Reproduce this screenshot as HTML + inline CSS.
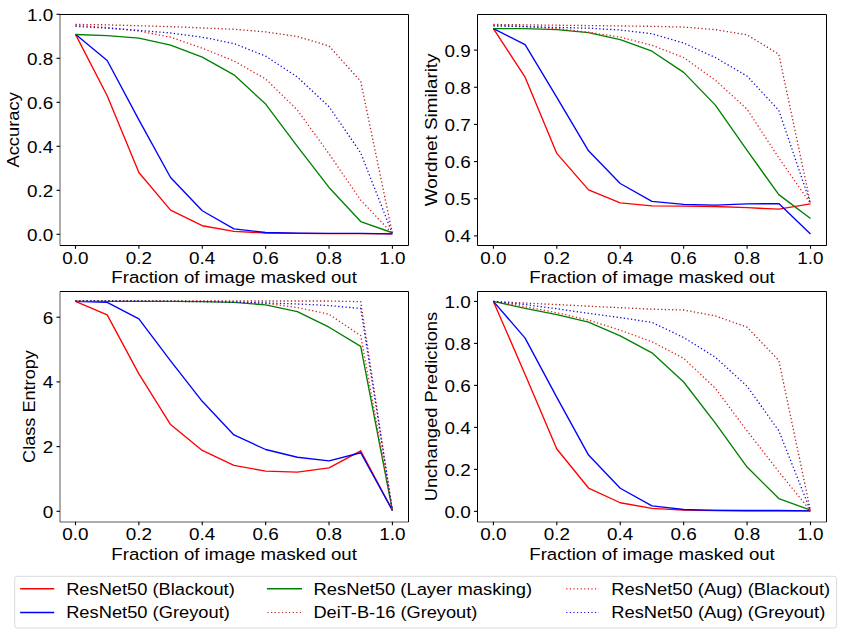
<!DOCTYPE html>
<html><head><meta charset="utf-8"><style>
html,body{margin:0;padding:0;background:#fff;}
svg{display:block;}
.t{font-family:"Liberation Sans",sans-serif;font-size:17.4px;fill:#000;}
</style></head><body>
<svg width="846" height="637" viewBox="0 0 846 637">
<rect width="846" height="637" fill="#fff"/>
<polyline points="75.50,34.32 107.19,95.70 138.88,172.48 170.57,210.10 202.26,225.72 233.95,231.44 265.64,232.98 297.33,233.42 329.02,233.64 360.71,233.64 392.40,233.86" fill="none" stroke="#ff0000" stroke-width="1.35" stroke-linejoin="round"/>
<polyline points="75.50,34.32 107.19,60.50 138.88,119.90 170.57,177.54 202.26,210.76 233.95,228.80 265.64,232.54 297.33,233.20 329.02,233.42 360.71,233.42 392.40,233.86" fill="none" stroke="#0000ff" stroke-width="1.35" stroke-linejoin="round"/>
<polyline points="75.50,34.54 107.19,35.64 138.88,38.06 170.57,45.10 202.26,57.20 233.95,74.80 265.64,104.06 297.33,146.30 329.02,187.44 360.71,221.54 392.40,232.76" fill="none" stroke="#008000" stroke-width="1.35" stroke-linejoin="round"/>
<polyline points="75.50,24.42 107.19,24.86 138.88,25.74 170.57,26.62 202.26,27.94 233.95,29.26 265.64,31.90 297.33,36.52 329.02,45.98 360.71,81.40 392.40,233.64" fill="none" stroke="#b02020" stroke-width="1.3" stroke-linejoin="round" stroke-dasharray="1.3 2.35"/>
<polyline points="75.50,25.30 107.19,27.50 138.88,31.02 170.57,37.18 202.26,48.18 233.95,60.94 265.64,78.98 297.33,110.00 329.02,153.78 360.71,200.20 392.40,233.64" fill="none" stroke="#e02020" stroke-width="1.3" stroke-linejoin="round" stroke-dasharray="1.3 2.35"/>
<polyline points="75.50,26.40 107.19,28.16 138.88,30.36 170.57,33.00 202.26,37.18 233.95,43.56 265.64,56.10 297.33,77.00 329.02,106.70 360.71,152.90 392.40,233.64" fill="none" stroke="#1010d0" stroke-width="1.3" stroke-linejoin="round" stroke-dasharray="1.3 2.35"/>
<line x1="60.00" y1="14.50" x2="60.00" y2="245.50" stroke="#000" stroke-width="0.65"/>
<line x1="408.50" y1="14.50" x2="408.50" y2="245.50" stroke="#000" stroke-width="1.0"/>
<line x1="60.00" y1="14.50" x2="408.50" y2="14.50" stroke="#000" stroke-width="1.0"/>
<line x1="60.00" y1="245.50" x2="408.50" y2="245.50" stroke="#000" stroke-width="1.0"/>
<line x1="75.50" y1="245.30" x2="75.50" y2="248.80" stroke="#000" stroke-width="1.1"/>
<text class="t" x="62.38" y="263.60" textLength="26.24" lengthAdjust="spacingAndGlyphs">0.0</text>
<line x1="138.88" y1="245.30" x2="138.88" y2="248.80" stroke="#000" stroke-width="1.1"/>
<text class="t" x="125.76" y="263.60" textLength="26.24" lengthAdjust="spacingAndGlyphs">0.2</text>
<line x1="202.26" y1="245.30" x2="202.26" y2="248.80" stroke="#000" stroke-width="1.1"/>
<text class="t" x="189.14" y="263.60" textLength="26.24" lengthAdjust="spacingAndGlyphs">0.4</text>
<line x1="265.64" y1="245.30" x2="265.64" y2="248.80" stroke="#000" stroke-width="1.1"/>
<text class="t" x="252.52" y="263.60" textLength="26.24" lengthAdjust="spacingAndGlyphs">0.6</text>
<line x1="329.02" y1="245.30" x2="329.02" y2="248.80" stroke="#000" stroke-width="1.1"/>
<text class="t" x="315.90" y="263.60" textLength="26.24" lengthAdjust="spacingAndGlyphs">0.8</text>
<line x1="392.40" y1="245.30" x2="392.40" y2="248.80" stroke="#000" stroke-width="1.1"/>
<text class="t" x="379.28" y="263.60" textLength="26.24" lengthAdjust="spacingAndGlyphs">1.0</text>
<line x1="56.50" y1="234.30" x2="60.00" y2="234.30" stroke="#000" stroke-width="1.1"/>
<text class="t" x="27.06" y="240.80" textLength="26.24" lengthAdjust="spacingAndGlyphs">0.0</text>
<line x1="56.50" y1="190.30" x2="60.00" y2="190.30" stroke="#000" stroke-width="1.1"/>
<text class="t" x="27.06" y="196.80" textLength="26.24" lengthAdjust="spacingAndGlyphs">0.2</text>
<line x1="56.50" y1="146.30" x2="60.00" y2="146.30" stroke="#000" stroke-width="1.1"/>
<text class="t" x="27.06" y="152.80" textLength="26.24" lengthAdjust="spacingAndGlyphs">0.4</text>
<line x1="56.50" y1="102.30" x2="60.00" y2="102.30" stroke="#000" stroke-width="1.1"/>
<text class="t" x="27.06" y="108.80" textLength="26.24" lengthAdjust="spacingAndGlyphs">0.6</text>
<line x1="56.50" y1="58.30" x2="60.00" y2="58.30" stroke="#000" stroke-width="1.1"/>
<text class="t" x="27.06" y="64.80" textLength="26.24" lengthAdjust="spacingAndGlyphs">0.8</text>
<line x1="56.50" y1="14.30" x2="60.00" y2="14.30" stroke="#000" stroke-width="1.1"/>
<text class="t" x="27.06" y="20.80" textLength="26.24" lengthAdjust="spacingAndGlyphs">1.0</text>
<text class="t" x="111.38" y="282.80" textLength="245.54" lengthAdjust="spacingAndGlyphs">Fraction of image masked out</text>
<text class="t" transform="translate(19.40,129.85) rotate(-90)" x="-37.67" y="0" textLength="75.33" lengthAdjust="spacingAndGlyphs">Accuracy</text>
<polyline points="493.40,28.55 525.11,77.23 556.82,153.40 588.53,189.82 620.24,202.83 651.95,205.80 683.66,206.17 715.37,206.54 747.08,207.66 778.79,209.14 810.50,203.94" fill="none" stroke="#ff0000" stroke-width="1.35" stroke-linejoin="round"/>
<polyline points="493.40,28.55 525.11,44.53 556.82,97.29 588.53,150.80 620.24,183.50 651.95,201.34 683.66,204.31 715.37,205.06 747.08,203.94 778.79,203.57 810.50,234.04" fill="none" stroke="#0000ff" stroke-width="1.35" stroke-linejoin="round"/>
<polyline points="493.40,28.55 525.11,28.55 556.82,29.66 588.53,32.63 620.24,39.70 651.95,51.21 683.66,72.40 715.37,105.10 747.08,150.43 778.79,194.65 810.50,218.43" fill="none" stroke="#008000" stroke-width="1.35" stroke-linejoin="round"/>
<polyline points="493.40,24.46 525.11,24.83 556.82,25.20 588.53,25.57 620.24,25.95 651.95,26.32 683.66,27.06 715.37,29.66 747.08,34.86 778.79,54.19 810.50,203.57" fill="none" stroke="#b02020" stroke-width="1.3" stroke-linejoin="round" stroke-dasharray="1.3 2.35"/>
<polyline points="493.40,25.20 525.11,26.32 556.82,28.55 588.53,32.26 620.24,37.09 651.95,45.27 683.66,57.53 715.37,80.20 747.08,109.18 778.79,157.86 810.50,203.57" fill="none" stroke="#e02020" stroke-width="1.3" stroke-linejoin="round" stroke-dasharray="1.3 2.35"/>
<polyline points="493.40,25.95 525.11,26.69 556.82,27.43 588.53,28.18 620.24,30.03 651.95,33.75 683.66,43.04 715.37,57.53 747.08,76.11 778.79,110.30 810.50,203.57" fill="none" stroke="#1010d0" stroke-width="1.3" stroke-linejoin="round" stroke-dasharray="1.3 2.35"/>
<line x1="477.50" y1="14.50" x2="477.50" y2="245.50" stroke="#000" stroke-width="1.0"/>
<line x1="826.50" y1="14.50" x2="826.50" y2="245.50" stroke="#000" stroke-width="1.0"/>
<line x1="477.50" y1="14.50" x2="826.50" y2="14.50" stroke="#000" stroke-width="1.0"/>
<line x1="477.50" y1="245.50" x2="826.50" y2="245.50" stroke="#000" stroke-width="1.0"/>
<line x1="493.40" y1="245.30" x2="493.40" y2="248.80" stroke="#000" stroke-width="1.1"/>
<text class="t" x="480.28" y="263.60" textLength="26.24" lengthAdjust="spacingAndGlyphs">0.0</text>
<line x1="556.82" y1="245.30" x2="556.82" y2="248.80" stroke="#000" stroke-width="1.1"/>
<text class="t" x="543.70" y="263.60" textLength="26.24" lengthAdjust="spacingAndGlyphs">0.2</text>
<line x1="620.24" y1="245.30" x2="620.24" y2="248.80" stroke="#000" stroke-width="1.1"/>
<text class="t" x="607.12" y="263.60" textLength="26.24" lengthAdjust="spacingAndGlyphs">0.4</text>
<line x1="683.66" y1="245.30" x2="683.66" y2="248.80" stroke="#000" stroke-width="1.1"/>
<text class="t" x="670.54" y="263.60" textLength="26.24" lengthAdjust="spacingAndGlyphs">0.6</text>
<line x1="747.08" y1="245.30" x2="747.08" y2="248.80" stroke="#000" stroke-width="1.1"/>
<text class="t" x="733.96" y="263.60" textLength="26.24" lengthAdjust="spacingAndGlyphs">0.8</text>
<line x1="810.50" y1="245.30" x2="810.50" y2="248.80" stroke="#000" stroke-width="1.1"/>
<text class="t" x="797.38" y="263.60" textLength="26.24" lengthAdjust="spacingAndGlyphs">1.0</text>
<line x1="474.00" y1="235.90" x2="477.50" y2="235.90" stroke="#000" stroke-width="1.1"/>
<text class="t" x="444.56" y="242.40" textLength="26.24" lengthAdjust="spacingAndGlyphs">0.4</text>
<line x1="474.00" y1="198.74" x2="477.50" y2="198.74" stroke="#000" stroke-width="1.1"/>
<text class="t" x="444.56" y="205.24" textLength="26.24" lengthAdjust="spacingAndGlyphs">0.5</text>
<line x1="474.00" y1="161.58" x2="477.50" y2="161.58" stroke="#000" stroke-width="1.1"/>
<text class="t" x="444.56" y="168.08" textLength="26.24" lengthAdjust="spacingAndGlyphs">0.6</text>
<line x1="474.00" y1="124.42" x2="477.50" y2="124.42" stroke="#000" stroke-width="1.1"/>
<text class="t" x="444.56" y="130.92" textLength="26.24" lengthAdjust="spacingAndGlyphs">0.7</text>
<line x1="474.00" y1="87.26" x2="477.50" y2="87.26" stroke="#000" stroke-width="1.1"/>
<text class="t" x="444.56" y="93.76" textLength="26.24" lengthAdjust="spacingAndGlyphs">0.8</text>
<line x1="474.00" y1="50.10" x2="477.50" y2="50.10" stroke="#000" stroke-width="1.1"/>
<text class="t" x="444.56" y="56.60" textLength="26.24" lengthAdjust="spacingAndGlyphs">0.9</text>
<text class="t" x="529.28" y="282.80" textLength="245.54" lengthAdjust="spacingAndGlyphs">Fraction of image masked out</text>
<text class="t" transform="translate(436.90,129.85) rotate(-90)" x="-76.37" y="0" textLength="152.75" lengthAdjust="spacingAndGlyphs">Wordnet Similarity</text>
<polyline points="75.50,301.35 107.19,314.94 138.88,373.81 170.57,424.60 202.26,450.48 233.95,465.36 265.64,471.19 297.33,472.16 329.02,467.95 360.71,450.81 392.40,510.33" fill="none" stroke="#ff0000" stroke-width="1.35" stroke-linejoin="round"/>
<polyline points="75.50,301.35 107.19,302.32 138.88,318.82 170.57,360.87 202.26,401.31 233.95,434.95 265.64,449.51 297.33,457.28 329.02,460.83 360.71,452.75 392.40,510.33" fill="none" stroke="#0000ff" stroke-width="1.35" stroke-linejoin="round"/>
<polyline points="75.50,301.35 107.19,301.35 138.88,301.35 170.57,301.35 202.26,301.67 233.95,302.32 265.64,304.91 297.33,311.70 329.02,327.23 360.71,346.32 392.40,510.33" fill="none" stroke="#008000" stroke-width="1.35" stroke-linejoin="round"/>
<polyline points="75.50,301.02 107.19,301.02 138.88,301.02 170.57,301.02 202.26,301.02 233.95,301.02 265.64,301.02 297.33,301.02 329.02,301.02 360.71,301.67 392.40,510.33" fill="none" stroke="#b02020" stroke-width="1.3" stroke-linejoin="round" stroke-dasharray="1.3 2.35"/>
<polyline points="75.50,301.02 107.19,301.02 138.88,301.02 170.57,301.35 202.26,301.35 233.95,301.67 265.64,303.29 297.33,307.50 329.02,314.29 360.71,335.64 392.40,510.33" fill="none" stroke="#e02020" stroke-width="1.3" stroke-linejoin="round" stroke-dasharray="1.3 2.35"/>
<polyline points="75.50,301.02 107.19,301.02 138.88,301.02 170.57,301.35 202.26,301.67 233.95,302.32 265.64,302.97 297.33,303.94 329.02,305.55 360.71,308.47 392.40,510.33" fill="none" stroke="#1010d0" stroke-width="1.3" stroke-linejoin="round" stroke-dasharray="1.3 2.35"/>
<line x1="60.00" y1="291.50" x2="60.00" y2="522.00" stroke="#000" stroke-width="0.65"/>
<line x1="408.50" y1="291.50" x2="408.50" y2="522.00" stroke="#000" stroke-width="1.0"/>
<line x1="60.00" y1="291.50" x2="408.50" y2="291.50" stroke="#000" stroke-width="1.0"/>
<line x1="60.00" y1="522.00" x2="408.50" y2="522.00" stroke="#000" stroke-width="0.65"/>
<line x1="75.50" y1="521.70" x2="75.50" y2="525.20" stroke="#000" stroke-width="1.1"/>
<text class="t" x="62.38" y="540.20" textLength="26.24" lengthAdjust="spacingAndGlyphs">0.0</text>
<line x1="138.88" y1="521.70" x2="138.88" y2="525.20" stroke="#000" stroke-width="1.1"/>
<text class="t" x="125.76" y="540.20" textLength="26.24" lengthAdjust="spacingAndGlyphs">0.2</text>
<line x1="202.26" y1="521.70" x2="202.26" y2="525.20" stroke="#000" stroke-width="1.1"/>
<text class="t" x="189.14" y="540.20" textLength="26.24" lengthAdjust="spacingAndGlyphs">0.4</text>
<line x1="265.64" y1="521.70" x2="265.64" y2="525.20" stroke="#000" stroke-width="1.1"/>
<text class="t" x="252.52" y="540.20" textLength="26.24" lengthAdjust="spacingAndGlyphs">0.6</text>
<line x1="329.02" y1="521.70" x2="329.02" y2="525.20" stroke="#000" stroke-width="1.1"/>
<text class="t" x="315.90" y="540.20" textLength="26.24" lengthAdjust="spacingAndGlyphs">0.8</text>
<line x1="392.40" y1="521.70" x2="392.40" y2="525.20" stroke="#000" stroke-width="1.1"/>
<text class="t" x="379.28" y="540.20" textLength="26.24" lengthAdjust="spacingAndGlyphs">1.0</text>
<line x1="56.50" y1="511.30" x2="60.00" y2="511.30" stroke="#000" stroke-width="1.1"/>
<text class="t" x="42.80" y="517.80" textLength="10.50" lengthAdjust="spacingAndGlyphs">0</text>
<line x1="56.50" y1="446.60" x2="60.00" y2="446.60" stroke="#000" stroke-width="1.1"/>
<text class="t" x="42.80" y="453.10" textLength="10.50" lengthAdjust="spacingAndGlyphs">2</text>
<line x1="56.50" y1="381.90" x2="60.00" y2="381.90" stroke="#000" stroke-width="1.1"/>
<text class="t" x="42.80" y="388.40" textLength="10.50" lengthAdjust="spacingAndGlyphs">4</text>
<line x1="56.50" y1="317.20" x2="60.00" y2="317.20" stroke="#000" stroke-width="1.1"/>
<text class="t" x="42.80" y="323.70" textLength="10.50" lengthAdjust="spacingAndGlyphs">6</text>
<text class="t" x="111.38" y="559.70" textLength="245.54" lengthAdjust="spacingAndGlyphs">Fraction of image masked out</text>
<text class="t" transform="translate(35.00,406.55) rotate(-90)" x="-56.38" y="0" textLength="112.76" lengthAdjust="spacingAndGlyphs">Class Entropy</text>
<polyline points="493.40,301.40 525.11,374.46 556.82,448.99 588.53,488.05 620.24,502.74 651.95,508.41 683.66,510.09 715.37,510.51 747.08,510.72 778.79,510.72 810.50,510.93" fill="none" stroke="#ff0000" stroke-width="1.35" stroke-linejoin="round"/>
<polyline points="493.40,301.40 525.11,338.14 556.82,397.35 588.53,455.08 620.24,488.26 651.95,505.89 683.66,509.46 715.37,510.30 747.08,510.51 778.79,510.51 810.50,510.93" fill="none" stroke="#0000ff" stroke-width="1.35" stroke-linejoin="round"/>
<polyline points="493.40,301.40 525.11,308.33 556.82,314.63 588.53,322.19 620.24,335.83 651.95,352.84 683.66,382.02 715.37,423.17 747.08,467.05 778.79,498.54 810.50,510.09" fill="none" stroke="#008000" stroke-width="1.35" stroke-linejoin="round"/>
<polyline points="493.40,301.40 525.11,303.08 556.82,304.55 588.53,306.23 620.24,307.70 651.95,309.17 683.66,310.01 715.37,315.89 747.08,327.22 778.79,360.40 810.50,510.72" fill="none" stroke="#b02020" stroke-width="1.3" stroke-linejoin="round" stroke-dasharray="1.3 2.35"/>
<polyline points="493.40,301.40 525.11,306.65 556.82,312.74 588.53,320.09 620.24,330.16 651.95,341.71 683.66,358.30 715.37,388.32 747.08,430.94 778.79,471.67 810.50,510.72" fill="none" stroke="#e02020" stroke-width="1.3" stroke-linejoin="round" stroke-dasharray="1.3 2.35"/>
<polyline points="493.40,301.40 525.11,304.55 556.82,308.75 588.53,313.37 620.24,317.57 651.95,322.40 683.66,337.51 715.37,357.25 747.08,386.22 778.79,430.73 810.50,510.72" fill="none" stroke="#1010d0" stroke-width="1.3" stroke-linejoin="round" stroke-dasharray="1.3 2.35"/>
<line x1="477.50" y1="291.50" x2="477.50" y2="522.00" stroke="#000" stroke-width="1.0"/>
<line x1="826.50" y1="291.50" x2="826.50" y2="522.00" stroke="#000" stroke-width="1.0"/>
<line x1="477.50" y1="291.50" x2="826.50" y2="291.50" stroke="#000" stroke-width="1.0"/>
<line x1="477.50" y1="522.00" x2="826.50" y2="522.00" stroke="#000" stroke-width="0.65"/>
<line x1="493.40" y1="521.70" x2="493.40" y2="525.20" stroke="#000" stroke-width="1.1"/>
<text class="t" x="480.28" y="540.20" textLength="26.24" lengthAdjust="spacingAndGlyphs">0.0</text>
<line x1="556.82" y1="521.70" x2="556.82" y2="525.20" stroke="#000" stroke-width="1.1"/>
<text class="t" x="543.70" y="540.20" textLength="26.24" lengthAdjust="spacingAndGlyphs">0.2</text>
<line x1="620.24" y1="521.70" x2="620.24" y2="525.20" stroke="#000" stroke-width="1.1"/>
<text class="t" x="607.12" y="540.20" textLength="26.24" lengthAdjust="spacingAndGlyphs">0.4</text>
<line x1="683.66" y1="521.70" x2="683.66" y2="525.20" stroke="#000" stroke-width="1.1"/>
<text class="t" x="670.54" y="540.20" textLength="26.24" lengthAdjust="spacingAndGlyphs">0.6</text>
<line x1="747.08" y1="521.70" x2="747.08" y2="525.20" stroke="#000" stroke-width="1.1"/>
<text class="t" x="733.96" y="540.20" textLength="26.24" lengthAdjust="spacingAndGlyphs">0.8</text>
<line x1="810.50" y1="521.70" x2="810.50" y2="525.20" stroke="#000" stroke-width="1.1"/>
<text class="t" x="797.38" y="540.20" textLength="26.24" lengthAdjust="spacingAndGlyphs">1.0</text>
<line x1="474.00" y1="511.35" x2="477.50" y2="511.35" stroke="#000" stroke-width="1.1"/>
<text class="t" x="444.56" y="517.85" textLength="26.24" lengthAdjust="spacingAndGlyphs">0.0</text>
<line x1="474.00" y1="469.36" x2="477.50" y2="469.36" stroke="#000" stroke-width="1.1"/>
<text class="t" x="444.56" y="475.86" textLength="26.24" lengthAdjust="spacingAndGlyphs">0.2</text>
<line x1="474.00" y1="427.37" x2="477.50" y2="427.37" stroke="#000" stroke-width="1.1"/>
<text class="t" x="444.56" y="433.87" textLength="26.24" lengthAdjust="spacingAndGlyphs">0.4</text>
<line x1="474.00" y1="385.38" x2="477.50" y2="385.38" stroke="#000" stroke-width="1.1"/>
<text class="t" x="444.56" y="391.88" textLength="26.24" lengthAdjust="spacingAndGlyphs">0.6</text>
<line x1="474.00" y1="343.39" x2="477.50" y2="343.39" stroke="#000" stroke-width="1.1"/>
<text class="t" x="444.56" y="349.89" textLength="26.24" lengthAdjust="spacingAndGlyphs">0.8</text>
<line x1="474.00" y1="301.40" x2="477.50" y2="301.40" stroke="#000" stroke-width="1.1"/>
<text class="t" x="444.56" y="307.90" textLength="26.24" lengthAdjust="spacingAndGlyphs">1.0</text>
<text class="t" x="529.28" y="559.70" textLength="245.54" lengthAdjust="spacingAndGlyphs">Fraction of image masked out</text>
<text class="t" transform="translate(436.90,406.55) rotate(-90)" x="-94.77" y="0" textLength="189.54" lengthAdjust="spacingAndGlyphs">Unchanged Predictions</text>
<rect x="14.7" y="576.3" width="821.9" height="51.7" rx="2.5" ry="2.5" fill="#fff" stroke="#dadada" stroke-width="1"/>
<line x1="20.1" y1="588.8" x2="54.2" y2="588.8" stroke="#ff0000" stroke-width="1.5"/>
<text class="t" x="66.15" y="594.50" textLength="168.63" lengthAdjust="spacingAndGlyphs">ResNet50 (Blackout)</text>
<line x1="20.1" y1="612.5" x2="54.2" y2="612.5" stroke="#0000ff" stroke-width="1.5"/>
<text class="t" x="66.15" y="618.40" textLength="163.70" lengthAdjust="spacingAndGlyphs">ResNet50 (Greyout)</text>
<line x1="266.9" y1="588.8" x2="302.0" y2="588.8" stroke="#008000" stroke-width="1.5"/>
<text class="t" x="313.45" y="594.50" textLength="218.65" lengthAdjust="spacingAndGlyphs">ResNet50 (Layer masking)</text>
<line x1="266.9" y1="612.5" x2="302.0" y2="612.5" stroke="#b02020" stroke-width="1.2" stroke-dasharray="1.2 2.4" stroke-dashoffset="-0.6"/>
<text class="t" x="313.45" y="618.40" textLength="163.91" lengthAdjust="spacingAndGlyphs">DeiT-B-16 (Greyout)</text>
<line x1="565.6" y1="588.8" x2="598.9" y2="588.8" stroke="#e02020" stroke-width="1.2" stroke-dasharray="1.2 2.4" stroke-dashoffset="-0.6"/>
<text class="t" x="611.25" y="594.50" textLength="218.96" lengthAdjust="spacingAndGlyphs">ResNet50 (Aug) (Blackout)</text>
<line x1="565.6" y1="612.5" x2="598.9" y2="612.5" stroke="#1010d0" stroke-width="1.2" stroke-dasharray="1.2 2.4" stroke-dashoffset="-0.6"/>
<text class="t" x="611.25" y="618.40" textLength="214.03" lengthAdjust="spacingAndGlyphs">ResNet50 (Aug) (Greyout)</text>
</svg>
</body></html>
